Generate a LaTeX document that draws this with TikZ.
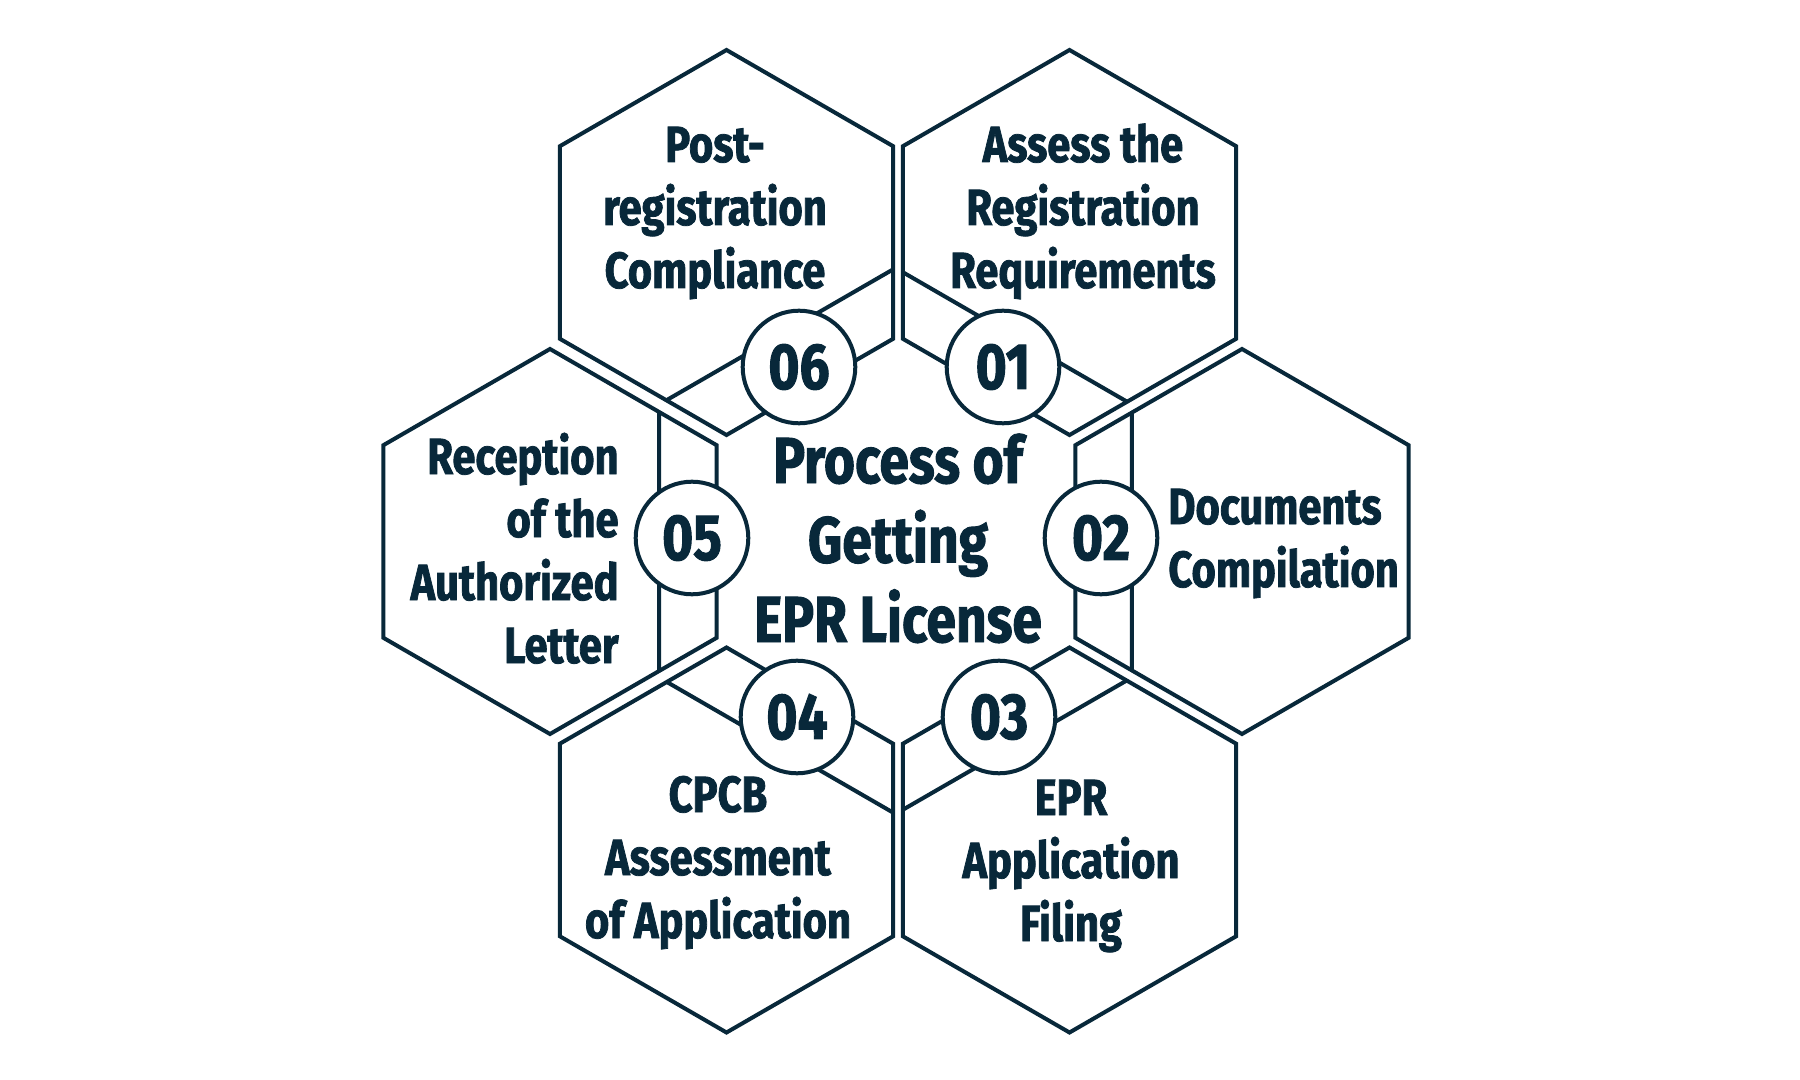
\documentclass[tikz,border=0pt]{standalone}
\usepackage{fontspec}
\setmainfont{Fira Sans}[FakeStretch=0.82,BoldFeatures={FakeBold=1.5}]
\usepackage{tikz}
\definecolor{eprnavy}{RGB}{8,40,58}

\begin{document}
\begin{tikzpicture}[x=0.5pt,y=0.5pt,yscale=-1,xscale=1,
	hexline/.style={draw=eprnavy,line width=2pt},
	hexhalo/.style={draw=white,line width=4.5pt},
	stepcircle/.style={circle,draw=eprnavy,fill=white,line width=2pt,minimum size=56.3pt,inner sep=0pt,text=eprnavy,font=\fontsize{32.5}{39}\selectfont\bfseries},
	steplabel/.style={text=eprnavy,inner sep=0pt,font=\fontsize{25.4}{31.5}\selectfont\bfseries},
	titlelabel/.style={text=eprnavy,inner sep=0pt,font=\fontsize{32.5}{39.75}\selectfont\bfseries}]
	\useasboundingbox (0,0) rectangle (1800,1080);
	\fill [white] (0,0) rectangle (1800,1080);

	%centres of the hexagons
	\coordinate (cmid) at (895.5,541);
	\coordinate (c01) at (1069.5,242.5);
	\coordinate (c02) at (1242,541.5);
	\coordinate (c03) at (1069.5,840);
	\coordinate (c04) at (726.5,840);
	\coordinate (c05) at (550,541.5);
	\coordinate (c06) at (726.5,242.5);

	%Shape: Hexagon [id:centre]
	\draw [hexline] (cmid) +(90:273) -- +(150:273) -- +(210:273) -- +(270:273) -- +(330:273) -- +(30:273) -- cycle ;

	%Shape: Hexagon halos (white gaps)
	\draw [hexhalo] (c01) +(90:197.7) -- +(150:197.7) -- +(210:197.7) -- +(270:197.7) -- +(330:197.7) -- +(30:197.7) -- cycle ;
	\draw [hexhalo] (c02) +(90:197.7) -- +(150:197.7) -- +(210:197.7) -- +(270:197.7) -- +(330:197.7) -- +(30:197.7) -- cycle ;
	\draw [hexhalo] (c03) +(90:197.7) -- +(150:197.7) -- +(210:197.7) -- +(270:197.7) -- +(330:197.7) -- +(30:197.7) -- cycle ;
	\draw [hexhalo] (c04) +(90:197.7) -- +(150:197.7) -- +(210:197.7) -- +(270:197.7) -- +(330:197.7) -- +(30:197.7) -- cycle ;
	\draw [hexhalo] (c05) +(90:197.7) -- +(150:197.7) -- +(210:197.7) -- +(270:197.7) -- +(330:197.7) -- +(30:197.7) -- cycle ;
	\draw [hexhalo] (c06) +(90:197.7) -- +(150:197.7) -- +(210:197.7) -- +(270:197.7) -- +(330:197.7) -- +(30:197.7) -- cycle ;

	%Shape: Hexagon [id:01]
	\draw [hexline] (c01) +(90:192.5) -- +(150:192.5) -- +(210:192.5) -- +(270:192.5) -- +(330:192.5) -- +(30:192.5) -- cycle ;
	%Shape: Hexagon [id:02]
	\draw [hexline] (c02) +(90:192.5) -- +(150:192.5) -- +(210:192.5) -- +(270:192.5) -- +(330:192.5) -- +(30:192.5) -- cycle ;
	%Shape: Hexagon [id:03]
	\draw [hexline] (c03) +(90:192.5) -- +(150:192.5) -- +(210:192.5) -- +(270:192.5) -- +(330:192.5) -- +(30:192.5) -- cycle ;
	%Shape: Hexagon [id:04]
	\draw [hexline] (c04) +(90:192.5) -- +(150:192.5) -- +(210:192.5) -- +(270:192.5) -- +(330:192.5) -- +(30:192.5) -- cycle ;
	%Shape: Hexagon [id:05]
	\draw [hexline] (c05) +(90:192.5) -- +(150:192.5) -- +(210:192.5) -- +(270:192.5) -- +(330:192.5) -- +(30:192.5) -- cycle ;
	%Shape: Hexagon [id:06]
	\draw [hexline] (c06) +(90:192.5) -- +(150:192.5) -- +(210:192.5) -- +(270:192.5) -- +(330:192.5) -- +(30:192.5) -- cycle ;

	%Shape: Circle numbers
	\node [stepcircle] (n01) at (1003,367) {01};
	\node [stepcircle] (n02) at (1101,538) {02};
	\node [stepcircle] (n03) at (999,717) {03};
	\node [stepcircle] (n04) at (797,717) {04};
	\node [stepcircle] (n05) at (692,538) {05};
	\node [stepcircle] (n06) at (799,367) {06};

	% Text Node (base = last line)
	\node [titlelabel,align=center,anchor=base] (title) at (898,642) {Process of\\Getting\\EPR License};
	% Text Node
	\node [steplabel,align=center,anchor=base] (t01) at (1083,288) {Assess the\\Registration\\Requirements};
	% Text Node
	\node [steplabel,align=left,anchor=base west] (t02) at (1168,587) {Documents\\Compilation};
	% Text Node
	\node [steplabel,align=center,anchor=base] (t03) at (1071,941) {EPR\\Application\\Filing};
	% Text Node
	\node [steplabel,align=center,anchor=base] (t04) at (718,938) {CPCB\\Assessment\\of Application};
	% Text Node
	\node [steplabel,align=right,anchor=base east] (t05) at (619,663) {Reception\\of the\\Authorized\\Letter};
	% Text Node
	\node [steplabel,align=center,anchor=base] (t06) at (715,288) {Post-\\registration\\Compliance};

\end{tikzpicture}
\end{document}
